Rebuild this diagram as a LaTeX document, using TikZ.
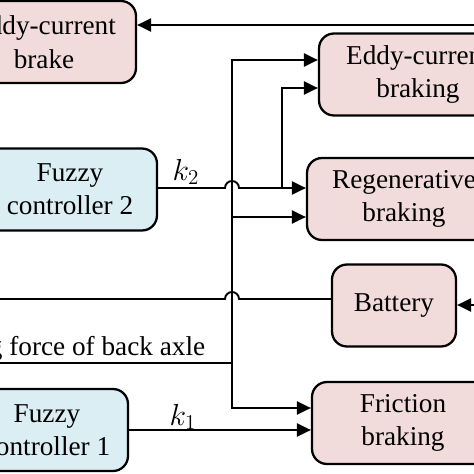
\documentclass[tikz,border=0pt]{standalone}
\usepackage{fontspec}
\setmainfont{Liberation Serif}
\usepackage{tikz}
\usetikzlibrary{positioning,arrows.meta}

\definecolor{brakepink}{RGB}{242,220,219}
\definecolor{fuzzyblue}{RGB}{219,238,244}

\begin{document}
\begin{tikzpicture}[x=0.02cm, y=-0.02cm, line width=1.1pt,
    font=\fontsize{15.5}{19}\selectfont,
    block/.style={draw, line width=1.3pt, rounded corners=0.3cm, align=center,
        inner sep=0pt, minimum height=1.64cm, fill=brakepink},
    fuzzy/.style={block, fill=fuzzyblue},
    gain/.style={font=\fontsize{18}{20}\selectfont},
    arr/.style={-{Triangle[length=8pt, width=7.5pt]}}]

    \useasboundingbox (0,0) rectangle (474,474);
    \clip (0,0) rectangle (474,474);

    \node[block, minimum width=3.68cm] (ecb)   at (44, 42)    {Eddy-current\\brake};
    \node[block, minimum width=3.96cm] (ecbk)  at (418, 74.5) {Eddy-current\\braking};
    \node[fuzzy, minimum width=3.48cm] (fc2)   at (70, 189.5) {Fuzzy\\controller 2};
    \node[block, minimum width=3.88cm] (regen) at (404, 199)  {Regenerative\\braking};
    \node[block, minimum width=2.48cm] (batt)  at (394, 305.5) {Battery};
    \node[block, minimum width=3.64cm] (fric)  at (403, 423)  {Friction\\braking};
    \node[fuzzy, minimum width=3.24cm] (fc1)   at (47, 430)   {Fuzzy\\controller 1};

    \node[anchor=base east] (force) at (212, 355) {Braking force of back axle};
    \node[gain] (k2) at (186, 172) {$k_2$};
    \node[gain] (k1) at (183, 417) {$k_1$};

    \coordinate (r1) at (480, 25);
    \coordinate (r2) at (480, 305);
    \coordinate (in) at (-10, 363);
    \coordinate (fa) at (232, 363);
    \coordinate (t0) at (232, 60);
    \coordinate (t1) at (232, 408);
    \coordinate (t2) at (232, 217);
    \coordinate (h2) at (232, 188);
    \coordinate (h3) at (232, 299);
    \coordinate (bl) at (-10, 299);
    \coordinate (b1) at (282, 88);
    \coordinate (b2) at (282, 188);

    % inputs from the right
    \draw[arr] (r1) -- (ecb.east |- r1);
    \draw[arr] (r2) -- (batt.east |- r2);

    % braking force split
    \draw (in) -- (fa);
    \draw[arr] (fa) -- (t0) -- (ecbk.west |- t0);
    \draw[arr] (fa) -- (t1) -- (fric.west |- t1);
    \draw[arr] (t2) -- (regen.west |- t2);

    % fuzzy controller outputs
    \draw[arr] (fc2.east |- h2) -- ([xshift=-0.14cm]h2)
        arc[start angle=180, end angle=0, radius=0.14cm] -- (regen.west |- h2);
    \draw[arr] (b2) -- (b1) -- (ecbk.west |- b1);
    \draw[arr] (fc1.east) -- (fric.west |- fc1.east);

    % battery
    \draw (batt.west |- h3) -- ([xshift=0.14cm]h3)
        arc[start angle=0, end angle=180, radius=0.14cm] -- (bl);

\end{tikzpicture}
\end{document}
